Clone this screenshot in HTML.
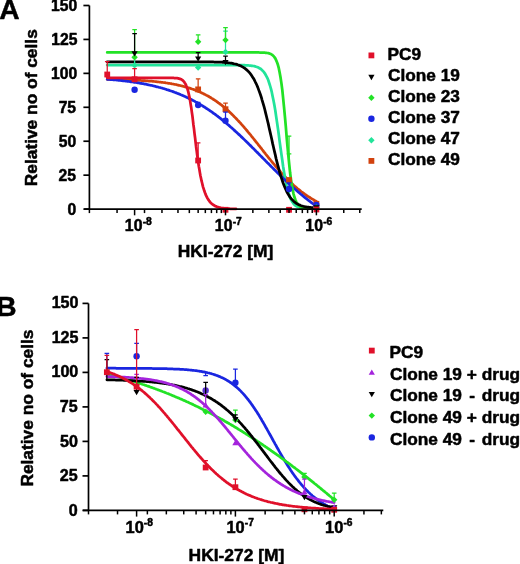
<!DOCTYPE html>
<html><head><meta charset="utf-8"><style>
html,body{margin:0;padding:0;background:#fff;overflow:hidden;}
svg{display:block;}
text{font-family:"Liberation Sans",Arial,Helvetica,sans-serif;font-weight:bold;fill:#000;stroke:#000;stroke-width:0.5px;stroke-linejoin:round;white-space:pre;}
</style></head><body>
<svg width="520" height="564" viewBox="0 0 520 564">
<rect width="520" height="564" fill="#fff"/>
<text class="t" x="51.10" y="11.20" font-size="15.7">150</text>
<text class="t" x="51.20" y="44.50" font-size="15.7">125</text>
<text class="t" x="51.10" y="78.50" font-size="15.7">100</text>
<text class="t" x="58.65" y="113.20" font-size="15.7">75</text>
<text class="t" x="58.85" y="146.50" font-size="15.7">50</text>
<text class="t" x="58.55" y="180.90" font-size="15.7">25</text>
<text class="t" x="67.56" y="214.70" font-size="15.7">0</text>
<text class="t" x="124.86" y="231.19" font-size="15.8">10</text>
<text class="t" x="142.64" y="224.65" font-size="10.3">-8</text>
<text class="t" x="214.86" y="231.19" font-size="15.8">10</text>
<text class="t" x="232.64" y="224.65" font-size="10.3">-7</text>
<text class="t" x="305.36" y="231.19" font-size="15.8">10</text>
<text class="t" x="323.14" y="224.65" font-size="10.3">-6</text>
<text class="t" x="177.78" y="256.55" font-size="17.2" textLength="95.54" lengthAdjust="spacingAndGlyphs">HKI-272 [M]</text>
<text class="t" transform="translate(36.85,186.22) rotate(-90)" x="0" y="0" font-size="17.3" textLength="156.99" lengthAdjust="spacingAndGlyphs">Relative no of cells</text>
<text class="t" x="-0.85" y="19.25" font-size="28.2">A</text>
<path d="M107.2,79.3 L108.1,79.3 L109.0,79.3 L109.9,79.3 L110.7,79.3 L111.6,79.4 L112.5,79.4 L113.4,79.4 L114.2,79.4 L115.1,79.4 L116.0,79.5 L116.9,79.5 L117.7,79.5 L118.6,79.5 L119.5,79.5 L120.4,79.6 L121.2,79.6 L122.1,79.6 L123.0,79.7 L123.9,79.7 L124.7,79.7 L125.6,79.7 L126.5,79.8 L127.4,79.8 L128.2,79.8 L129.1,79.9 L130.0,79.9 L130.9,79.9 L131.7,80.0 L132.6,80.0 L133.5,80.1 L134.4,80.1 L135.2,80.1 L136.1,80.2 L137.0,80.2 L137.9,80.3 L138.7,80.3 L139.6,80.4 L140.5,80.4 L141.4,80.5 L142.2,80.5 L143.1,80.6 L144.0,80.6 L144.9,80.7 L145.7,80.8 L146.6,80.8 L147.5,80.9 L148.4,81.0 L149.2,81.0 L150.1,81.1 L151.0,81.2 L151.9,81.2 L152.7,81.3 L153.6,81.4 L154.5,81.5 L155.4,81.6 L156.2,81.7 L157.1,81.8 L158.0,81.9 L158.9,82.0 L159.7,82.1 L160.6,82.2 L161.5,82.3 L162.4,82.4 L163.2,82.5 L164.1,82.6 L165.0,82.7 L165.9,82.9 L166.7,83.0 L167.6,83.1 L168.5,83.3 L169.4,83.4 L170.2,83.5 L171.1,83.7 L172.0,83.9 L172.9,84.0 L173.7,84.2 L174.6,84.3 L175.5,84.5 L176.4,84.7 L177.2,84.9 L178.1,85.1 L179.0,85.3 L179.9,85.5 L180.7,85.7 L181.6,85.9 L182.5,86.1 L183.4,86.3 L184.3,86.6 L185.1,86.8 L186.0,87.1 L186.9,87.3 L187.8,87.6 L188.6,87.8 L189.5,88.1 L190.4,88.4 L191.3,88.7 L192.1,89.0 L193.0,89.3 L193.9,89.6 L194.8,90.0 L195.6,90.3 L196.5,90.6 L197.4,91.0 L198.3,91.4 L199.1,91.7 L200.0,92.1 L200.9,92.5 L201.8,92.9 L202.6,93.3 L203.5,93.7 L204.4,94.2 L205.3,94.6 L206.1,95.1 L207.0,95.6 L207.9,96.0 L208.8,96.5 L209.6,97.0 L210.5,97.5 L211.4,98.1 L212.3,98.6 L213.1,99.2 L214.0,99.7 L214.9,100.3 L215.8,100.9 L216.6,101.5 L217.5,102.1 L218.4,102.8 L219.3,103.4 L220.1,104.1 L221.0,104.7 L221.9,105.4 L222.8,106.1 L223.6,106.8 L224.5,107.6 L225.4,108.3 L226.3,109.1 L227.1,109.8 L228.0,110.6 L228.9,111.4 L229.8,112.2 L230.6,113.0 L231.5,113.9 L232.4,114.7 L233.3,115.6 L234.1,116.5 L235.0,117.4 L235.9,118.3 L236.8,119.2 L237.6,120.1 L238.5,121.0 L239.4,122.0 L240.3,122.9 L241.1,123.9 L242.0,124.9 L242.9,125.9 L243.8,126.9 L244.6,127.9 L245.5,128.9 L246.4,130.0 L247.3,131.0 L248.1,132.1 L249.0,133.1 L249.9,134.2 L250.8,135.2 L251.6,136.3 L252.5,137.4 L253.4,138.5 L254.3,139.6 L255.1,140.7 L256.0,141.8 L256.9,142.9 L257.8,144.0 L258.6,145.1 L259.5,146.2 L260.4,147.3 L261.3,148.4 L262.1,149.5 L263.0,150.6 L263.9,151.8 L264.8,152.9 L265.6,154.0 L266.5,155.1 L267.4,156.2 L268.3,157.3 L269.1,158.3 L270.0,159.4 L270.9,160.5 L271.8,161.6 L272.6,162.6 L273.5,163.7 L274.4,164.7 L275.3,165.8 L276.1,166.8 L277.0,167.8 L277.9,168.9 L278.8,169.9 L279.6,170.9 L280.5,171.8 L281.4,172.8 L282.3,173.8 L283.1,174.7 L284.0,175.7 L284.9,176.6 L285.8,177.5 L286.6,178.4 L287.5,179.3 L288.4,180.2 L289.3,181.1 L290.1,181.9 L291.0,182.7 L291.9,183.6 L292.8,184.4 L293.6,185.2 L294.5,186.0 L295.4,186.7 L296.3,187.5 L297.1,188.3 L298.0,189.0 L298.9,189.7 L299.8,190.4 L300.6,191.1 L301.5,191.8 L302.4,192.4 L303.3,193.1 L304.1,193.7 L305.0,194.4 L305.9,195.0 L306.8,195.6 L307.6,196.2 L308.5,196.7 L309.4,197.3 L310.3,197.8 L311.1,198.4 L312.0,198.9 L312.9,199.4 L313.8,199.9 L314.6,200.4 L315.5,200.9 L316.4,201.4" fill="none" stroke="#d2420e" stroke-width="2.75" stroke-linejoin="round" stroke-linecap="round"/>
<path d="M107.2,65.0 L108.1,65.0 L109.0,65.0 L109.9,65.0 L110.7,65.0 L111.6,65.0 L112.5,65.0 L113.4,65.0 L114.2,65.0 L115.1,65.0 L116.0,65.0 L116.9,65.0 L117.7,65.0 L118.6,65.0 L119.5,65.0 L120.4,65.0 L121.2,65.0 L122.1,65.0 L123.0,65.0 L123.9,65.0 L124.7,65.0 L125.6,65.0 L126.5,65.0 L127.4,65.0 L128.2,65.0 L129.1,65.0 L130.0,65.0 L130.9,65.0 L131.7,65.0 L132.6,65.0 L133.5,65.0 L134.4,65.0 L135.2,65.0 L136.1,65.0 L137.0,65.0 L137.9,65.0 L138.7,65.0 L139.6,65.0 L140.5,65.0 L141.4,65.0 L142.2,65.0 L143.1,65.0 L144.0,65.0 L144.9,65.0 L145.7,65.0 L146.6,65.0 L147.5,65.0 L148.4,65.0 L149.2,65.0 L150.1,65.0 L151.0,65.0 L151.9,65.0 L152.7,65.0 L153.6,65.0 L154.5,65.0 L155.4,65.0 L156.2,65.0 L157.1,65.0 L158.0,65.0 L158.9,65.0 L159.7,65.0 L160.6,65.0 L161.5,65.0 L162.4,65.0 L163.2,65.0 L164.1,65.0 L165.0,65.0 L165.9,65.0 L166.7,65.0 L167.6,65.0 L168.5,65.0 L169.4,65.0 L170.2,65.0 L171.1,65.0 L172.0,65.0 L172.9,65.0 L173.7,65.0 L174.6,65.0 L175.5,65.0 L176.4,65.0 L177.2,65.0 L178.1,65.0 L179.0,65.0 L179.9,65.0 L180.7,65.0 L181.6,65.0 L182.5,65.0 L183.4,65.0 L184.3,65.0 L185.1,65.0 L186.0,65.0 L186.9,65.0 L187.8,65.0 L188.6,65.0 L189.5,65.0 L190.4,65.0 L191.3,65.0 L192.1,65.0 L193.0,65.0 L193.9,65.0 L194.8,65.0 L195.6,65.0 L196.5,65.0 L197.4,65.0 L198.3,65.0 L199.1,65.0 L200.0,65.0 L200.9,65.0 L201.8,65.0 L202.6,65.0 L203.5,65.0 L204.4,65.0 L205.3,65.0 L206.1,65.0 L207.0,65.0 L207.9,65.0 L208.8,65.0 L209.6,65.0 L210.5,65.0 L211.4,65.0 L212.3,65.0 L213.1,65.0 L214.0,65.0 L214.9,65.0 L215.8,65.0 L216.6,65.0 L217.5,65.0 L218.4,65.0 L219.3,65.0 L220.1,65.0 L221.0,65.0 L221.9,65.0 L222.8,65.0 L223.6,65.0 L224.5,65.0 L225.4,65.0 L226.3,65.0 L227.1,65.0 L228.0,65.0 L228.9,65.0 L229.8,65.0 L230.6,65.0 L231.5,65.0 L232.4,65.0 L233.3,65.0 L234.1,65.0 L235.0,65.1 L235.9,65.1 L236.8,65.1 L237.6,65.1 L238.5,65.1 L239.4,65.1 L240.3,65.1 L241.1,65.1 L242.0,65.1 L242.9,65.2 L243.8,65.2 L244.6,65.2 L245.5,65.3 L246.4,65.3 L247.3,65.3 L248.1,65.4 L249.0,65.5 L249.9,65.5 L250.8,65.6 L251.6,65.8 L252.5,65.9 L253.4,66.0 L254.3,66.2 L255.1,66.4 L256.0,66.7 L256.9,67.0 L257.8,67.3 L258.6,67.7 L259.5,68.2 L260.4,68.7 L261.3,69.4 L262.1,70.2 L263.0,71.0 L263.9,72.1 L264.8,73.3 L265.6,74.7 L266.5,76.3 L267.4,78.1 L268.3,80.3 L269.1,82.7 L270.0,85.5 L270.9,88.7 L271.8,92.2 L272.6,96.2 L273.5,100.5 L274.4,105.3 L275.3,110.5 L276.1,116.1 L277.0,122.1 L277.9,128.3 L278.8,134.7 L279.6,141.2 L280.5,147.7 L281.4,154.1 L282.3,160.3 L283.1,166.2 L284.0,171.7 L284.9,176.8 L285.8,181.4 L286.6,185.6 L287.5,189.3 L288.4,192.5 L289.3,195.2 L290.1,197.6 L291.0,199.6 L291.9,201.2 L292.8,202.6 L293.6,203.8 L294.5,204.7 L295.4,205.5 L296.3,206.1 L297.1,206.6 L298.0,207.0 L298.9,207.3 L299.8,207.6 L300.6,207.8 L301.5,208.0 L302.4,208.1 L303.3,208.2 L304.1,208.3 L305.0,208.4 L305.9,208.4 L306.8,208.5 L307.6,208.5 L308.5,208.5 L309.4,208.5 L310.3,208.6 L311.1,208.6 L312.0,208.6 L312.9,208.6 L313.8,208.6 L314.6,208.6 L315.5,208.6 L316.4,208.6" fill="none" stroke="#22e49a" stroke-width="2.75" stroke-linejoin="round" stroke-linecap="round"/>
<path d="M107.2,79.3 L108.1,79.3 L109.0,79.4 L109.9,79.5 L110.7,79.5 L111.6,79.6 L112.5,79.7 L113.4,79.8 L114.2,79.9 L115.1,79.9 L116.0,80.0 L116.9,80.1 L117.7,80.2 L118.6,80.3 L119.5,80.4 L120.4,80.5 L121.2,80.6 L122.1,80.7 L123.0,80.8 L123.9,80.9 L124.7,81.0 L125.6,81.1 L126.5,81.2 L127.4,81.3 L128.2,81.4 L129.1,81.5 L130.0,81.6 L130.9,81.8 L131.7,81.9 L132.6,82.0 L133.5,82.1 L134.4,82.3 L135.2,82.4 L136.1,82.5 L137.0,82.7 L137.9,82.8 L138.7,83.0 L139.6,83.1 L140.5,83.3 L141.4,83.4 L142.2,83.6 L143.1,83.7 L144.0,83.9 L144.9,84.1 L145.7,84.2 L146.6,84.4 L147.5,84.6 L148.4,84.8 L149.2,85.0 L150.1,85.2 L151.0,85.3 L151.9,85.5 L152.7,85.7 L153.6,86.0 L154.5,86.2 L155.4,86.4 L156.2,86.6 L157.1,86.8 L158.0,87.0 L158.9,87.3 L159.7,87.5 L160.6,87.7 L161.5,88.0 L162.4,88.2 L163.2,88.5 L164.1,88.7 L165.0,89.0 L165.9,89.3 L166.7,89.6 L167.6,89.8 L168.5,90.1 L169.4,90.4 L170.2,90.7 L171.1,91.0 L172.0,91.3 L172.9,91.6 L173.7,91.9 L174.6,92.3 L175.5,92.6 L176.4,92.9 L177.2,93.3 L178.1,93.6 L179.0,93.9 L179.9,94.3 L180.7,94.7 L181.6,95.0 L182.5,95.4 L183.4,95.8 L184.3,96.2 L185.1,96.6 L186.0,97.0 L186.9,97.4 L187.8,97.8 L188.6,98.2 L189.5,98.7 L190.4,99.1 L191.3,99.5 L192.1,100.0 L193.0,100.4 L193.9,100.9 L194.8,101.4 L195.6,101.9 L196.5,102.3 L197.4,102.8 L198.3,103.3 L199.1,103.8 L200.0,104.4 L200.9,104.9 L201.8,105.4 L202.6,105.9 L203.5,106.5 L204.4,107.0 L205.3,107.6 L206.1,108.2 L207.0,108.7 L207.9,109.3 L208.8,109.9 L209.6,110.5 L210.5,111.1 L211.4,111.7 L212.3,112.3 L213.1,113.0 L214.0,113.6 L214.9,114.2 L215.8,114.9 L216.6,115.5 L217.5,116.2 L218.4,116.9 L219.3,117.5 L220.1,118.2 L221.0,118.9 L221.9,119.6 L222.8,120.3 L223.6,121.0 L224.5,121.8 L225.4,122.5 L226.3,123.2 L227.1,124.0 L228.0,124.7 L228.9,125.4 L229.8,126.2 L230.6,127.0 L231.5,127.7 L232.4,128.5 L233.3,129.3 L234.1,130.1 L235.0,130.9 L235.9,131.7 L236.8,132.5 L237.6,133.3 L238.5,134.1 L239.4,134.9 L240.3,135.7 L241.1,136.6 L242.0,137.4 L242.9,138.2 L243.8,139.1 L244.6,139.9 L245.5,140.8 L246.4,141.6 L247.3,142.5 L248.1,143.3 L249.0,144.2 L249.9,145.1 L250.8,145.9 L251.6,146.8 L252.5,147.7 L253.4,148.5 L254.3,149.4 L255.1,150.3 L256.0,151.2 L256.9,152.1 L257.8,152.9 L258.6,153.8 L259.5,154.7 L260.4,155.6 L261.3,156.5 L262.1,157.4 L263.0,158.2 L263.9,159.1 L264.8,160.0 L265.6,160.9 L266.5,161.8 L267.4,162.7 L268.3,163.5 L269.1,164.4 L270.0,165.3 L270.9,166.2 L271.8,167.1 L272.6,167.9 L273.5,168.8 L274.4,169.7 L275.3,170.5 L276.1,171.4 L277.0,172.3 L277.9,173.1 L278.8,174.0 L279.6,174.8 L280.5,175.7 L281.4,176.5 L282.3,177.4 L283.1,178.2 L284.0,179.0 L284.9,179.9 L285.8,180.7 L286.6,181.5 L287.5,182.3 L288.4,183.2 L289.3,184.0 L290.1,184.8 L291.0,185.6 L291.9,186.4 L292.8,187.1 L293.6,187.9 L294.5,188.7 L295.4,189.5 L296.3,190.2 L297.1,191.0 L298.0,191.8 L298.9,192.5 L299.8,193.3 L300.6,194.0 L301.5,194.7 L302.4,195.5 L303.3,196.2 L304.1,196.9 L305.0,197.6 L305.9,198.3 L306.8,199.0 L307.6,199.7 L308.5,200.4 L309.4,201.0 L310.3,201.7 L311.1,202.4 L312.0,203.0 L312.9,203.7 L313.8,204.3 L314.6,205.0 L315.5,205.6 L316.4,206.2" fill="none" stroke="#1a26e0" stroke-width="2.75" stroke-linejoin="round" stroke-linecap="round"/>
<path d="M107.2,52.4 L108.1,52.4 L109.0,52.4 L109.9,52.4 L110.7,52.4 L111.6,52.4 L112.5,52.4 L113.4,52.4 L114.2,52.4 L115.1,52.4 L116.0,52.4 L116.9,52.4 L117.7,52.4 L118.6,52.4 L119.5,52.4 L120.4,52.4 L121.2,52.4 L122.1,52.4 L123.0,52.4 L123.9,52.4 L124.7,52.4 L125.6,52.4 L126.5,52.4 L127.4,52.4 L128.2,52.4 L129.1,52.4 L130.0,52.4 L130.9,52.4 L131.7,52.4 L132.6,52.4 L133.5,52.4 L134.4,52.4 L135.2,52.4 L136.1,52.4 L137.0,52.4 L137.9,52.4 L138.7,52.4 L139.6,52.4 L140.5,52.4 L141.4,52.4 L142.2,52.4 L143.1,52.4 L144.0,52.4 L144.9,52.4 L145.7,52.4 L146.6,52.4 L147.5,52.4 L148.4,52.4 L149.2,52.4 L150.1,52.4 L151.0,52.4 L151.9,52.4 L152.7,52.4 L153.6,52.4 L154.5,52.4 L155.4,52.4 L156.2,52.4 L157.1,52.4 L158.0,52.4 L158.9,52.4 L159.7,52.4 L160.6,52.4 L161.5,52.4 L162.4,52.4 L163.2,52.4 L164.1,52.4 L165.0,52.4 L165.9,52.4 L166.7,52.4 L167.6,52.4 L168.5,52.4 L169.4,52.4 L170.2,52.4 L171.1,52.4 L172.0,52.4 L172.9,52.4 L173.7,52.4 L174.6,52.4 L175.5,52.4 L176.4,52.4 L177.2,52.4 L178.1,52.4 L179.0,52.4 L179.9,52.4 L180.7,52.4 L181.6,52.4 L182.5,52.4 L183.4,52.4 L184.3,52.4 L185.1,52.4 L186.0,52.4 L186.9,52.4 L187.8,52.4 L188.6,52.4 L189.5,52.4 L190.4,52.4 L191.3,52.4 L192.1,52.4 L193.0,52.4 L193.9,52.4 L194.8,52.4 L195.6,52.4 L196.5,52.4 L197.4,52.4 L198.3,52.4 L199.1,52.4 L200.0,52.4 L200.9,52.4 L201.8,52.4 L202.6,52.4 L203.5,52.4 L204.4,52.4 L205.3,52.4 L206.1,52.4 L207.0,52.4 L207.9,52.4 L208.8,52.4 L209.6,52.4 L210.5,52.4 L211.4,52.4 L212.3,52.4 L213.1,52.4 L214.0,52.4 L214.9,52.4 L215.8,52.4 L216.6,52.4 L217.5,52.4 L218.4,52.4 L219.3,52.4 L220.1,52.4 L221.0,52.4 L221.9,52.4 L222.8,52.4 L223.6,52.4 L224.5,52.4 L225.4,52.4 L226.3,52.4 L227.1,52.4 L228.0,52.4 L228.9,52.4 L229.8,52.4 L230.6,52.4 L231.5,52.4 L232.4,52.4 L233.3,52.4 L234.1,52.4 L235.0,52.4 L235.9,52.4 L236.8,52.4 L237.6,52.4 L238.5,52.4 L239.4,52.4 L240.3,52.4 L241.1,52.4 L242.0,52.4 L242.9,52.4 L243.8,52.4 L244.6,52.4 L245.5,52.4 L246.4,52.4 L247.3,52.4 L248.1,52.4 L249.0,52.4 L249.9,52.4 L250.8,52.4 L251.6,52.4 L252.5,52.4 L253.4,52.4 L254.3,52.4 L255.1,52.4 L256.0,52.4 L256.9,52.4 L257.8,52.4 L258.6,52.4 L259.5,52.5 L260.4,52.5 L261.3,52.5 L262.1,52.5 L263.0,52.6 L263.9,52.6 L264.8,52.7 L265.6,52.8 L266.5,52.9 L267.4,53.0 L268.3,53.2 L269.1,53.4 L270.0,53.7 L270.9,54.1 L271.8,54.6 L272.6,55.2 L273.5,56.0 L274.4,57.1 L275.3,58.4 L276.1,60.1 L277.0,62.2 L277.9,64.8 L278.8,68.2 L279.6,72.2 L280.5,77.2 L281.4,83.1 L282.3,90.0 L283.1,97.9 L284.0,106.8 L284.9,116.3 L285.8,126.4 L286.6,136.6 L287.5,146.7 L288.4,156.2 L289.3,165.0 L290.1,172.8 L291.0,179.6 L291.9,185.4 L292.8,190.2 L293.6,194.1 L294.5,197.3 L295.4,199.8 L296.3,201.8 L297.1,203.3 L298.0,204.6 L298.9,205.5 L299.8,206.2 L300.6,206.8 L301.5,207.2 L302.4,207.5 L303.3,207.8 L304.1,208.0 L305.0,208.1 L305.9,208.2 L306.8,208.3 L307.6,208.4 L308.5,208.4 L309.4,208.5 L310.3,208.5 L311.1,208.5 L312.0,208.5 L312.9,208.6 L313.8,208.6 L314.6,208.6 L315.5,208.6 L316.4,208.6" fill="none" stroke="#22e226" stroke-width="2.75" stroke-linejoin="round" stroke-linecap="round"/>
<path d="M107.2,61.8 L108.1,61.8 L109.0,61.8 L109.9,61.8 L110.7,61.8 L111.6,61.8 L112.5,61.8 L113.4,61.8 L114.2,61.8 L115.1,61.8 L116.0,61.8 L116.9,61.8 L117.7,61.8 L118.6,61.8 L119.5,61.8 L120.4,61.8 L121.2,61.8 L122.1,61.8 L123.0,61.8 L123.9,61.8 L124.7,61.8 L125.6,61.8 L126.5,61.8 L127.4,61.8 L128.2,61.8 L129.1,61.8 L130.0,61.8 L130.9,61.8 L131.7,61.8 L132.6,61.8 L133.5,61.8 L134.4,61.8 L135.2,61.8 L136.1,61.8 L137.0,61.8 L137.9,61.8 L138.7,61.8 L139.6,61.8 L140.5,61.8 L141.4,61.8 L142.2,61.8 L143.1,61.8 L144.0,61.8 L144.9,61.8 L145.7,61.8 L146.6,61.8 L147.5,61.8 L148.4,61.8 L149.2,61.8 L150.1,61.8 L151.0,61.8 L151.9,61.8 L152.7,61.8 L153.6,61.8 L154.5,61.8 L155.4,61.8 L156.2,61.8 L157.1,61.8 L158.0,61.8 L158.9,61.8 L159.7,61.8 L160.6,61.8 L161.5,61.8 L162.4,61.8 L163.2,61.8 L164.1,61.8 L165.0,61.8 L165.9,61.8 L166.7,61.8 L167.6,61.8 L168.5,61.8 L169.4,61.8 L170.2,61.8 L171.1,61.8 L172.0,61.8 L172.9,61.8 L173.7,61.8 L174.6,61.8 L175.5,61.8 L176.4,61.8 L177.2,61.8 L178.1,61.8 L179.0,61.8 L179.9,61.8 L180.7,61.8 L181.6,61.8 L182.5,61.8 L183.4,61.8 L184.3,61.8 L185.1,61.8 L186.0,61.8 L186.9,61.8 L187.8,61.8 L188.6,61.8 L189.5,61.8 L190.4,61.8 L191.3,61.8 L192.1,61.8 L193.0,61.8 L193.9,61.8 L194.8,61.8 L195.6,61.8 L196.5,61.8 L197.4,61.8 L198.3,61.8 L199.1,61.8 L200.0,61.8 L200.9,61.8 L201.8,61.8 L202.6,61.8 L203.5,61.8 L204.4,61.8 L205.3,61.8 L206.1,61.8 L207.0,61.8 L207.9,61.9 L208.8,61.9 L209.6,61.9 L210.5,61.9 L211.4,61.9 L212.3,61.9 L213.1,61.9 L214.0,62.0 L214.9,62.0 L215.8,62.0 L216.6,62.0 L217.5,62.1 L218.4,62.1 L219.3,62.1 L220.1,62.2 L221.0,62.2 L221.9,62.2 L222.8,62.3 L223.6,62.4 L224.5,62.4 L225.4,62.5 L226.3,62.6 L227.1,62.7 L228.0,62.8 L228.9,62.9 L229.8,63.0 L230.6,63.1 L231.5,63.2 L232.4,63.4 L233.3,63.6 L234.1,63.8 L235.0,64.0 L235.9,64.2 L236.8,64.4 L237.6,64.7 L238.5,65.0 L239.4,65.4 L240.3,65.7 L241.1,66.1 L242.0,66.6 L242.9,67.1 L243.8,67.6 L244.6,68.2 L245.5,68.9 L246.4,69.6 L247.3,70.4 L248.1,71.2 L249.0,72.2 L249.9,73.2 L250.8,74.3 L251.6,75.5 L252.5,76.9 L253.4,78.3 L254.3,79.8 L255.1,81.5 L256.0,83.3 L256.9,85.3 L257.8,87.4 L258.6,89.6 L259.5,92.0 L260.4,94.5 L261.3,97.2 L262.1,100.1 L263.0,103.1 L263.9,106.2 L264.8,109.5 L265.6,112.9 L266.5,116.5 L267.4,120.2 L268.3,123.9 L269.1,127.7 L270.0,131.6 L270.9,135.5 L271.8,139.5 L272.6,143.4 L273.5,147.3 L274.4,151.1 L275.3,154.9 L276.1,158.6 L277.0,162.1 L277.9,165.6 L278.8,168.9 L279.6,172.1 L280.5,175.0 L281.4,177.9 L282.3,180.5 L283.1,183.0 L284.0,185.3 L284.9,187.5 L285.8,189.5 L286.6,191.3 L287.5,193.0 L288.4,194.5 L289.3,195.9 L290.1,197.2 L291.0,198.4 L291.9,199.4 L292.8,200.3 L293.6,201.2 L294.5,202.0 L295.4,202.6 L296.3,203.3 L297.1,203.8 L298.0,204.3 L298.9,204.7 L299.8,205.1 L300.6,205.5 L301.5,205.8 L302.4,206.0 L303.3,206.3 L304.1,206.5 L305.0,206.7 L305.9,206.8 L306.8,207.0 L307.6,207.1 L308.5,207.2 L309.4,207.3 L310.3,207.4 L311.1,207.5 L312.0,207.6 L312.9,207.6 L313.8,207.7 L314.6,207.7 L315.5,207.8 L316.4,207.8" fill="none" stroke="#000" stroke-width="2.75" stroke-linejoin="round" stroke-linecap="round"/>
<path d="M107.2,77.8 L107.8,77.8 L108.3,77.8 L108.9,77.8 L109.4,77.8 L109.9,77.8 L110.5,77.8 L111.0,77.8 L111.5,77.8 L112.1,77.8 L112.6,77.8 L113.2,77.8 L113.7,77.8 L114.2,77.8 L114.8,77.8 L115.3,77.8 L115.9,77.8 L116.4,77.8 L116.9,77.8 L117.5,77.8 L118.0,77.8 L118.6,77.8 L119.1,77.8 L119.6,77.8 L120.2,77.8 L120.7,77.8 L121.2,77.8 L121.8,77.8 L122.3,77.8 L122.9,77.8 L123.4,77.8 L123.9,77.8 L124.5,77.8 L125.0,77.8 L125.6,77.8 L126.1,77.8 L126.6,77.8 L127.2,77.8 L127.7,77.8 L128.2,77.8 L128.8,77.8 L129.3,77.8 L129.9,77.8 L130.4,77.8 L130.9,77.8 L131.5,77.8 L132.0,77.8 L132.6,77.8 L133.1,77.8 L133.6,77.8 L134.2,77.8 L134.7,77.8 L135.3,77.8 L135.8,77.8 L136.3,77.8 L136.9,77.8 L137.4,77.8 L137.9,77.8 L138.5,77.8 L139.0,77.8 L139.6,77.8 L140.1,77.8 L140.6,77.8 L141.2,77.8 L141.7,77.8 L142.3,77.8 L142.8,77.8 L143.3,77.8 L143.9,77.8 L144.4,77.8 L144.9,77.8 L145.5,77.8 L146.0,77.8 L146.6,77.8 L147.1,77.8 L147.6,77.8 L148.2,77.8 L148.7,77.8 L149.3,77.8 L149.8,77.8 L150.3,77.8 L150.9,77.8 L151.4,77.8 L152.0,77.8 L152.5,77.8 L153.0,77.8 L153.6,77.8 L154.1,77.8 L154.6,77.8 L155.2,77.8 L155.7,77.8 L156.3,77.8 L156.8,77.8 L157.3,77.8 L157.9,77.8 L158.4,77.8 L159.0,77.8 L159.5,77.8 L160.0,77.8 L160.6,77.8 L161.1,77.8 L161.7,77.8 L162.2,77.8 L162.7,77.8 L163.3,77.8 L163.8,77.8 L164.3,77.8 L164.9,77.8 L165.4,77.8 L166.0,77.8 L166.5,77.8 L167.0,77.8 L167.6,77.8 L168.1,77.8 L168.7,77.8 L169.2,77.8 L169.7,77.8 L170.3,77.8 L170.8,77.9 L171.3,77.9 L171.9,77.9 L172.4,77.9 L173.0,77.9 L173.5,77.9 L174.0,78.0 L174.6,78.0 L175.1,78.0 L175.7,78.1 L176.2,78.1 L176.7,78.2 L177.3,78.2 L177.8,78.3 L178.4,78.4 L178.9,78.6 L179.4,78.7 L180.0,78.9 L180.5,79.1 L181.0,79.3 L181.6,79.6 L182.1,79.9 L182.7,80.4 L183.2,80.8 L183.7,81.4 L184.3,82.1 L184.8,82.9 L185.4,83.8 L185.9,84.8 L186.4,86.1 L187.0,87.5 L187.5,89.2 L188.1,91.1 L188.6,93.2 L189.1,95.6 L189.7,98.3 L190.2,101.3 L190.7,104.6 L191.3,108.1 L191.8,111.9 L192.4,115.9 L192.9,120.1 L193.4,124.5 L194.0,128.9 L194.5,133.4 L195.1,137.9 L195.6,142.4 L196.1,146.7 L196.7,151.0 L197.2,155.0 L197.7,158.9 L198.3,162.7 L198.8,166.2 L199.4,169.5 L199.9,172.6 L200.4,175.5 L201.0,178.2 L201.5,180.7 L202.1,183.0 L202.6,185.1 L203.1,187.1 L203.7,188.9 L204.2,190.6 L204.8,192.2 L205.3,193.6 L205.8,194.9 L206.4,196.1 L206.9,197.2 L207.4,198.2 L208.0,199.1 L208.5,199.9 L209.1,200.7 L209.6,201.4 L210.1,202.1 L210.7,202.7 L211.2,203.2 L211.8,203.7 L212.3,204.1 L212.8,204.6 L213.4,204.9 L213.9,205.3 L214.4,205.6 L215.0,205.9 L215.5,206.2 L216.1,206.4 L216.6,206.6 L217.1,206.8 L217.7,207.0 L218.2,207.2 L218.8,207.3 L219.3,207.5 L219.8,207.6 L220.4,207.7 L220.9,207.9 L221.5,208.0 L222.0,208.0 L222.5,208.1 L223.1,208.2 L223.6,208.3 L224.1,208.3 L224.7,208.4 L225.2,208.4 L225.8,208.5 L226.3,208.5 L226.8,208.6 L227.4,208.6 L227.9,208.7 L228.5,208.7 L229.0,208.7 L229.5,208.7 L230.1,208.8 L230.6,208.8 L231.2,208.8 L231.7,208.8 L232.2,208.8 L232.8,208.9 L233.3,208.9 L233.8,208.9 L234.4,208.9 L234.9,208.9 L235.5,208.9 L236.0,208.9" fill="none" stroke="#e0102a" stroke-width="2.75" stroke-linejoin="round" stroke-linecap="round"/>
<path d="M198.14,89.40 V78.90 M195.84,78.90 H200.44" stroke="#d2420e" stroke-width="1.25" fill="none"/>
<path d="M225.50,109.20 V103.00 M223.20,103.00 H227.80" stroke="#d2420e" stroke-width="1.25" fill="none"/>
<rect x="195.24" y="86.50" width="5.80" height="5.80" fill="#d2420e"/>
<rect x="222.60" y="106.30" width="5.80" height="5.80" fill="#d2420e"/>
<rect x="286.14" y="177.10" width="5.80" height="5.80" fill="#d2420e"/>
<rect x="313.50" y="200.90" width="5.80" height="5.80" fill="#d2420e"/>
<path d="M134.60,65.20 V57.50 M132.30,57.50 H136.90" stroke="#22e49a" stroke-width="1.25" fill="none"/>
<path d="M225.50,52.00 V31.20 M223.20,31.20 H227.80" stroke="#22e49a" stroke-width="1.25" fill="none"/>
<polygon points="134.60,62.00 137.80,65.20 134.60,68.40 131.40,65.20" fill="#22e49a"/>
<polygon points="198.14,64.40 201.34,67.60 198.14,70.80 194.94,67.60" fill="#22e49a"/>
<polygon points="225.50,48.80 228.70,52.00 225.50,55.20 222.30,52.00" fill="#22e49a"/>
<polygon points="316.40,204.30 319.60,207.50 316.40,210.70 313.20,207.50" fill="#22e49a"/>
<path d="M198.14,105.10 V102.40 M195.84,102.40 H200.44" stroke="#1a26e0" stroke-width="1.25" fill="none"/>
<path d="M225.50,120.70 V112.00 M223.20,112.00 H227.80" stroke="#1a26e0" stroke-width="1.25" fill="none"/>
<path d="M289.04,189.00 V182.80 M286.74,182.80 H291.34" stroke="#1a26e0" stroke-width="1.25" fill="none"/>
<circle cx="134.60" cy="89.80" r="3.20" fill="#1a26e0"/>
<circle cx="198.14" cy="105.10" r="3.20" fill="#1a26e0"/>
<circle cx="225.50" cy="120.70" r="3.20" fill="#1a26e0"/>
<circle cx="289.04" cy="189.00" r="3.20" fill="#1a26e0"/>
<circle cx="316.40" cy="205.00" r="3.20" fill="#1a26e0"/>
<path d="M134.60,57.20 V29.70 M132.30,29.70 H136.90" stroke="#22e226" stroke-width="1.25" fill="none"/>
<path d="M198.14,41.80 V34.80 M195.84,34.80 H200.44" stroke="#22e226" stroke-width="1.25" fill="none"/>
<path d="M225.50,40.10 V27.70 M223.20,27.70 H227.80" stroke="#22e226" stroke-width="1.25" fill="none"/>
<path d="M289.04,162.75 V136.00 M286.74,136.00 H291.34" stroke="#22e226" stroke-width="1.25" fill="none"/>
<path d="M289.04,162.75 V153.80 M286.74,153.80 H291.34" stroke="#22e226" stroke-width="1.25" fill="none"/>
<polygon points="134.60,54.00 137.80,57.20 134.60,60.40 131.40,57.20" fill="#22e226"/>
<polygon points="198.14,38.60 201.34,41.80 198.14,45.00 194.94,41.80" fill="#22e226"/>
<polygon points="225.50,36.90 228.70,40.10 225.50,43.30 222.30,40.10" fill="#22e226"/>
<polygon points="316.40,204.30 319.60,207.50 316.40,210.70 313.20,207.50" fill="#22e226"/>
<path d="M134.60,53.40 V33.60 M132.30,33.60 H136.90" stroke="#000" stroke-width="1.25" fill="none"/>
<path d="M198.14,58.70 V52.50 M195.84,52.50 H200.44" stroke="#000" stroke-width="1.25" fill="none"/>
<path d="M225.50,62.20 V56.00 M223.20,56.00 H227.80" stroke="#000" stroke-width="1.25" fill="none"/>
<polygon points="131.50,51.17 137.70,51.17 134.60,56.47" fill="#000"/>
<polygon points="195.04,56.47 201.24,56.47 198.14,61.77" fill="#000"/>
<polygon points="222.40,59.97 228.60,59.97 225.50,65.27" fill="#000"/>
<polygon points="313.30,205.27 319.50,205.27 316.40,210.57" fill="#000"/>
<path d="M107.24,74.50 V61.60 M104.94,61.60 H109.54" stroke="#e0102a" stroke-width="1.25" fill="none"/>
<path d="M134.60,79.30 V68.70 M132.30,68.70 H136.90" stroke="#e0102a" stroke-width="1.25" fill="none"/>
<path d="M198.14,160.50 V142.90 M195.84,142.90 H200.44" stroke="#e0102a" stroke-width="1.25" fill="none"/>
<rect x="104.34" y="71.60" width="5.80" height="5.80" fill="#e0102a"/>
<rect x="131.70" y="76.40" width="5.80" height="5.80" fill="#e0102a"/>
<rect x="195.24" y="157.60" width="5.80" height="5.80" fill="#e0102a"/>
<rect x="222.60" y="206.90" width="5.80" height="5.80" fill="#e0102a"/>
<rect x="286.14" y="206.90" width="5.80" height="5.80" fill="#e0102a"/>
<rect x="313.50" y="206.60" width="5.80" height="5.80" fill="#e0102a"/>
<rect x="368.50" y="52.50" width="5.80" height="5.80" fill="#e0102a"/>
<text class="t" x="387.49" y="60.05" font-size="17.0" textLength="33.57" lengthAdjust="spacingAndGlyphs">PC9</text>
<polygon points="368.30,74.87 374.50,74.87 371.40,80.17" fill="#000"/>
<text class="t" x="387.96" y="81.11" font-size="17.0" textLength="71.92" lengthAdjust="spacingAndGlyphs">Clone 19</text>
<polygon points="371.40,94.50 374.60,97.70 371.40,100.90 368.20,97.70" fill="#22e226"/>
<text class="t" x="387.96" y="102.17" font-size="17.0" textLength="71.92" lengthAdjust="spacingAndGlyphs">Clone 23</text>
<circle cx="371.40" cy="118.80" r="3.20" fill="#1a26e0"/>
<text class="t" x="387.96" y="123.23" font-size="17.0" textLength="71.92" lengthAdjust="spacingAndGlyphs">Clone 37</text>
<polygon points="371.40,137.10 374.60,140.30 371.40,143.50 368.20,140.30" fill="#22e49a"/>
<text class="t" x="387.96" y="144.29" font-size="17.0" textLength="71.92" lengthAdjust="spacingAndGlyphs">Clone 47</text>
<rect x="368.50" y="158.00" width="5.80" height="5.80" fill="#d2420e"/>
<text class="t" x="387.96" y="165.35" font-size="17.0" textLength="71.92" lengthAdjust="spacingAndGlyphs">Clone 49</text>
<path d="M89.4,5.5 V209.1" stroke="#000" stroke-width="1.7" fill="none"/>
<path d="M83.40,209.10 H89.4" stroke="#000" stroke-width="1.7"/>
<path d="M83.40,175.17 H89.4" stroke="#000" stroke-width="1.7"/>
<path d="M83.40,141.23 H89.4" stroke="#000" stroke-width="1.7"/>
<path d="M83.40,107.30 H89.4" stroke="#000" stroke-width="1.7"/>
<path d="M83.40,73.37 H89.4" stroke="#000" stroke-width="1.7"/>
<path d="M83.40,39.43 H89.4" stroke="#000" stroke-width="1.7"/>
<path d="M83.40,5.50 H89.4" stroke="#000" stroke-width="1.7"/>
<path d="M84.2,209.1 H361.7" stroke="#000" stroke-width="1.7" fill="none"/>
<path d="M89.40,209.1 V213.10" stroke="#000" stroke-width="1.5"/>
<path d="M134.60,209.1 V215.30" stroke="#000" stroke-width="1.5"/>
<path d="M161.96,209.1 V213.10" stroke="#000" stroke-width="1.5"/>
<path d="M177.97,209.1 V213.10" stroke="#000" stroke-width="1.5"/>
<path d="M189.33,209.1 V213.10" stroke="#000" stroke-width="1.5"/>
<path d="M198.14,209.1 V213.10" stroke="#000" stroke-width="1.5"/>
<path d="M205.33,209.1 V213.10" stroke="#000" stroke-width="1.5"/>
<path d="M211.42,209.1 V213.10" stroke="#000" stroke-width="1.5"/>
<path d="M216.69,209.1 V213.10" stroke="#000" stroke-width="1.5"/>
<path d="M221.34,209.1 V213.10" stroke="#000" stroke-width="1.5"/>
<path d="M225.50,209.1 V215.30" stroke="#000" stroke-width="1.5"/>
<path d="M252.86,209.1 V213.10" stroke="#000" stroke-width="1.5"/>
<path d="M268.87,209.1 V213.10" stroke="#000" stroke-width="1.5"/>
<path d="M280.23,209.1 V213.10" stroke="#000" stroke-width="1.5"/>
<path d="M289.04,209.1 V213.10" stroke="#000" stroke-width="1.5"/>
<path d="M296.23,209.1 V213.10" stroke="#000" stroke-width="1.5"/>
<path d="M302.32,209.1 V213.10" stroke="#000" stroke-width="1.5"/>
<path d="M307.59,209.1 V213.10" stroke="#000" stroke-width="1.5"/>
<path d="M312.24,209.1 V213.10" stroke="#000" stroke-width="1.5"/>
<path d="M316.40,209.1 V215.30" stroke="#000" stroke-width="1.5"/>
<path d="M343.76,209.1 V213.10" stroke="#000" stroke-width="1.5"/>
<path d="M359.77,209.1 V213.10" stroke="#000" stroke-width="1.5"/>
<path d="M117.06,209.1 V213.10" stroke="#000" stroke-width="1.5"/>
<path d="M144.51,209.1 V213.10" stroke="#000" stroke-width="1.5"/>
<text class="t" x="51.65" y="307.83" font-size="16.1">150</text>
<text class="t" x="51.65" y="342.83" font-size="16.1">125</text>
<text class="t" x="51.45" y="377.43" font-size="16.1">100</text>
<text class="t" x="59.82" y="412.43" font-size="16.1">75</text>
<text class="t" x="60.02" y="446.83" font-size="16.1">50</text>
<text class="t" x="59.82" y="480.73" font-size="16.1">25</text>
<text class="t" x="68.66" y="516.13" font-size="16.1">0</text>
<text class="t" x="125.52" y="532.59" font-size="16.4">10</text>
<text class="t" x="143.84" y="526.05" font-size="10.2">-8</text>
<text class="t" x="226.42" y="532.59" font-size="16.4">10</text>
<text class="t" x="244.74" y="526.05" font-size="10.2">-7</text>
<text class="t" x="325.12" y="532.59" font-size="16.4">10</text>
<text class="t" x="343.44" y="526.05" font-size="10.2">-6</text>
<text class="t" x="188.57" y="560.55" font-size="17.2" textLength="95.85" lengthAdjust="spacingAndGlyphs">HKI-272 [M]</text>
<text class="t" transform="translate(32.65,486.62) rotate(-90)" x="0" y="0" font-size="17.3" textLength="157.09" lengthAdjust="spacingAndGlyphs">Relative no of cells</text>
<text class="t" x="-4.06" y="316.25" font-size="28.5">B</text>
<path d="M106.9,368.2 L107.8,368.2 L108.8,368.2 L109.7,368.2 L110.7,368.2 L111.6,368.2 L112.6,368.2 L113.5,368.2 L114.5,368.2 L115.4,368.2 L116.4,368.3 L117.3,368.3 L118.3,368.3 L119.2,368.3 L120.2,368.3 L121.1,368.3 L122.1,368.3 L123.0,368.3 L124.0,368.3 L124.9,368.3 L125.9,368.3 L126.8,368.3 L127.8,368.3 L128.7,368.3 L129.7,368.3 L130.6,368.3 L131.6,368.3 L132.5,368.3 L133.5,368.3 L134.4,368.3 L135.4,368.3 L136.3,368.3 L137.3,368.3 L138.2,368.3 L139.2,368.3 L140.2,368.3 L141.1,368.3 L142.1,368.4 L143.0,368.4 L144.0,368.4 L144.9,368.4 L145.9,368.4 L146.8,368.4 L147.8,368.4 L148.7,368.4 L149.7,368.4 L150.6,368.4 L151.6,368.4 L152.5,368.5 L153.5,368.5 L154.4,368.5 L155.4,368.5 L156.3,368.5 L157.3,368.5 L158.2,368.5 L159.2,368.6 L160.1,368.6 L161.1,368.6 L162.0,368.6 L163.0,368.6 L163.9,368.7 L164.9,368.7 L165.8,368.7 L166.8,368.7 L167.7,368.8 L168.7,368.8 L169.6,368.8 L170.6,368.9 L171.5,368.9 L172.5,368.9 L173.4,369.0 L174.4,369.0 L175.3,369.0 L176.3,369.1 L177.2,369.1 L178.2,369.2 L179.2,369.2 L180.1,369.3 L181.1,369.3 L182.0,369.4 L183.0,369.4 L183.9,369.5 L184.9,369.6 L185.8,369.7 L186.8,369.7 L187.7,369.8 L188.7,369.9 L189.6,370.0 L190.6,370.1 L191.5,370.2 L192.5,370.3 L193.4,370.4 L194.4,370.5 L195.3,370.6 L196.3,370.7 L197.2,370.8 L198.2,371.0 L199.1,371.1 L200.1,371.3 L201.0,371.4 L202.0,371.6 L202.9,371.8 L203.9,371.9 L204.8,372.1 L205.8,372.3 L206.7,372.5 L207.7,372.8 L208.6,373.0 L209.6,373.2 L210.5,373.5 L211.5,373.7 L212.4,374.0 L213.4,374.3 L214.3,374.6 L215.3,374.9 L216.2,375.3 L217.2,375.6 L218.2,376.0 L219.1,376.4 L220.1,376.8 L221.0,377.2 L222.0,377.6 L222.9,378.1 L223.9,378.6 L224.8,379.1 L225.8,379.6 L226.7,380.1 L227.7,380.7 L228.6,381.3 L229.6,381.9 L230.5,382.5 L231.5,383.2 L232.4,383.9 L233.4,384.6 L234.3,385.3 L235.3,386.1 L236.2,386.9 L237.2,387.7 L238.1,388.6 L239.1,389.5 L240.0,390.4 L241.0,391.4 L241.9,392.4 L242.9,393.4 L243.8,394.4 L244.8,395.5 L245.7,396.6 L246.7,397.8 L247.6,399.0 L248.6,400.2 L249.5,401.4 L250.5,402.7 L251.4,404.0 L252.4,405.4 L253.3,406.7 L254.3,408.1 L255.2,409.6 L256.2,411.0 L257.2,412.5 L258.1,414.1 L259.1,415.6 L260.0,417.2 L261.0,418.7 L261.9,420.4 L262.9,422.0 L263.8,423.6 L264.8,425.3 L265.7,427.0 L266.7,428.7 L267.6,430.4 L268.6,432.1 L269.5,433.8 L270.5,435.5 L271.4,437.2 L272.4,439.0 L273.3,440.7 L274.3,442.4 L275.2,444.1 L276.2,445.8 L277.1,447.5 L278.1,449.2 L279.0,450.9 L280.0,452.6 L280.9,454.3 L281.9,455.9 L282.8,457.5 L283.8,459.1 L284.7,460.7 L285.7,462.3 L286.6,463.8 L287.6,465.4 L288.5,466.9 L289.5,468.3 L290.4,469.8 L291.4,471.2 L292.3,472.6 L293.3,474.0 L294.2,475.3 L295.2,476.7 L296.2,478.0 L297.1,479.2 L298.1,480.4 L299.0,481.7 L300.0,482.8 L300.9,484.0 L301.9,485.1 L302.8,486.2 L303.8,487.3 L304.7,488.3 L305.7,489.3 L306.6,490.3 L307.6,491.3 L308.5,492.2 L309.5,493.1 L310.4,494.0 L311.4,494.8 L312.3,495.7 L313.3,496.5 L314.2,497.2 L315.2,498.0 L316.1,498.7 L317.1,499.5 L318.0,500.1 L319.0,500.8 L319.9,501.5 L320.9,502.1 L321.8,502.7 L322.8,503.3 L323.7,503.9 L324.7,504.4 L325.6,505.0 L326.6,505.5 L327.5,506.0 L328.5,506.5 L329.4,506.9 L330.4,507.4 L331.3,507.8 L332.3,508.2 L333.2,508.7 L334.2,509.1" fill="none" stroke="#1a26e0" stroke-width="2.75" stroke-linejoin="round" stroke-linecap="round"/>
<path d="M106.9,374.0 L107.8,374.2 L108.8,374.5 L109.7,374.7 L110.7,375.0 L111.6,375.2 L112.6,375.4 L113.5,375.7 L114.5,375.9 L115.4,376.2 L116.4,376.5 L117.3,376.7 L118.3,377.0 L119.2,377.2 L120.2,377.5 L121.1,377.8 L122.1,378.0 L123.0,378.3 L124.0,378.6 L124.9,378.8 L125.9,379.1 L126.8,379.4 L127.8,379.7 L128.7,380.0 L129.7,380.2 L130.6,380.5 L131.6,380.8 L132.5,381.1 L133.5,381.4 L134.4,381.7 L135.4,382.0 L136.3,382.3 L137.3,382.6 L138.2,382.9 L139.2,383.2 L140.2,383.5 L141.1,383.8 L142.1,384.2 L143.0,384.5 L144.0,384.8 L144.9,385.1 L145.9,385.4 L146.8,385.8 L147.8,386.1 L148.7,386.4 L149.7,386.8 L150.6,387.1 L151.6,387.4 L152.5,387.8 L153.5,388.1 L154.4,388.5 L155.4,388.8 L156.3,389.2 L157.3,389.5 L158.2,389.9 L159.2,390.2 L160.1,390.6 L161.1,390.9 L162.0,391.3 L163.0,391.7 L163.9,392.0 L164.9,392.4 L165.8,392.8 L166.8,393.2 L167.7,393.5 L168.7,393.9 L169.6,394.3 L170.6,394.7 L171.5,395.1 L172.5,395.5 L173.4,395.9 L174.4,396.3 L175.3,396.7 L176.3,397.1 L177.2,397.5 L178.2,397.9 L179.2,398.3 L180.1,398.7 L181.1,399.1 L182.0,399.5 L183.0,400.0 L183.9,400.4 L184.9,400.8 L185.8,401.2 L186.8,401.7 L187.7,402.1 L188.7,402.6 L189.6,403.0 L190.6,403.4 L191.5,403.9 L192.5,404.3 L193.4,404.8 L194.4,405.2 L195.3,405.7 L196.3,406.1 L197.2,406.6 L198.2,407.1 L199.1,407.5 L200.1,408.0 L201.0,408.5 L202.0,409.0 L202.9,409.4 L203.9,409.9 L204.8,410.4 L205.8,410.9 L206.7,411.4 L207.7,411.9 L208.6,412.3 L209.6,412.8 L210.5,413.3 L211.5,413.8 L212.4,414.3 L213.4,414.9 L214.3,415.4 L215.3,415.9 L216.2,416.4 L217.2,416.9 L218.2,417.4 L219.1,418.0 L220.1,418.5 L221.0,419.0 L222.0,419.5 L222.9,420.1 L223.9,420.6 L224.8,421.2 L225.8,421.7 L226.7,422.2 L227.7,422.8 L228.6,423.3 L229.6,423.9 L230.5,424.4 L231.5,425.0 L232.4,425.6 L233.4,426.1 L234.3,426.7 L235.3,427.3 L236.2,427.8 L237.2,428.4 L238.1,429.0 L239.1,429.6 L240.0,430.1 L241.0,430.7 L241.9,431.3 L242.9,431.9 L243.8,432.5 L244.8,433.1 L245.7,433.7 L246.7,434.3 L247.6,434.9 L248.6,435.5 L249.5,436.1 L250.5,436.7 L251.4,437.3 L252.4,438.0 L253.3,438.6 L254.3,439.2 L255.2,439.8 L256.2,440.4 L257.2,441.1 L258.1,441.7 L259.1,442.3 L260.0,443.0 L261.0,443.6 L261.9,444.3 L262.9,444.9 L263.8,445.6 L264.8,446.2 L265.7,446.9 L266.7,447.5 L267.6,448.2 L268.6,448.8 L269.5,449.5 L270.5,450.1 L271.4,450.8 L272.4,451.5 L273.3,452.2 L274.3,452.8 L275.2,453.5 L276.2,454.2 L277.1,454.9 L278.1,455.5 L279.0,456.2 L280.0,456.9 L280.9,457.6 L281.9,458.3 L282.8,459.0 L283.8,459.7 L284.7,460.4 L285.7,461.1 L286.6,461.8 L287.6,462.5 L288.5,463.2 L289.5,463.9 L290.4,464.6 L291.4,465.4 L292.3,466.1 L293.3,466.8 L294.2,467.5 L295.2,468.2 L296.2,469.0 L297.1,469.7 L298.1,470.4 L299.0,471.2 L300.0,471.9 L300.9,472.6 L301.9,473.4 L302.8,474.1 L303.8,474.9 L304.7,475.6 L305.7,476.4 L306.6,477.1 L307.6,477.9 L308.5,478.6 L309.5,479.4 L310.4,480.1 L311.4,480.9 L312.3,481.7 L313.3,482.4 L314.2,483.2 L315.2,484.0 L316.1,484.7 L317.1,485.5 L318.0,486.3 L319.0,487.0 L319.9,487.8 L320.9,488.6 L321.8,489.4 L322.8,490.2 L323.7,491.0 L324.7,491.7 L325.6,492.5 L326.6,493.3 L327.5,494.1 L328.5,494.9 L329.4,495.7 L330.4,496.5 L331.3,497.3 L332.3,498.1 L333.2,498.9 L334.2,499.7" fill="none" stroke="#22e226" stroke-width="2.75" stroke-linejoin="round" stroke-linecap="round"/>
<path d="M106.9,379.8 L107.8,379.8 L108.8,379.8 L109.7,379.8 L110.7,379.8 L111.6,379.9 L112.6,379.9 L113.5,379.9 L114.5,379.9 L115.4,380.0 L116.4,380.0 L117.3,380.0 L118.3,380.1 L119.2,380.1 L120.2,380.1 L121.1,380.2 L122.1,380.2 L123.0,380.2 L124.0,380.3 L124.9,380.3 L125.9,380.3 L126.8,380.4 L127.8,380.4 L128.7,380.5 L129.7,380.5 L130.6,380.5 L131.6,380.6 L132.5,380.6 L133.5,380.7 L134.4,380.7 L135.4,380.8 L136.3,380.8 L137.3,380.9 L138.2,381.0 L139.2,381.0 L140.2,381.1 L141.1,381.1 L142.1,381.2 L143.0,381.3 L144.0,381.3 L144.9,381.4 L145.9,381.5 L146.8,381.6 L147.8,381.7 L148.7,381.7 L149.7,381.8 L150.6,381.9 L151.6,382.0 L152.5,382.1 L153.5,382.2 L154.4,382.3 L155.4,382.4 L156.3,382.5 L157.3,382.6 L158.2,382.7 L159.2,382.8 L160.1,382.9 L161.1,383.1 L162.0,383.2 L163.0,383.3 L163.9,383.5 L164.9,383.6 L165.8,383.7 L166.8,383.9 L167.7,384.0 L168.7,384.2 L169.6,384.3 L170.6,384.5 L171.5,384.7 L172.5,384.9 L173.4,385.0 L174.4,385.2 L175.3,385.4 L176.3,385.6 L177.2,385.8 L178.2,386.0 L179.2,386.3 L180.1,386.5 L181.1,386.7 L182.0,386.9 L183.0,387.2 L183.9,387.4 L184.9,387.7 L185.8,388.0 L186.8,388.2 L187.7,388.5 L188.7,388.8 L189.6,389.1 L190.6,389.4 L191.5,389.7 L192.5,390.1 L193.4,390.4 L194.4,390.7 L195.3,391.1 L196.3,391.5 L197.2,391.8 L198.2,392.2 L199.1,392.6 L200.1,393.0 L201.0,393.4 L202.0,393.9 L202.9,394.3 L203.9,394.7 L204.8,395.2 L205.8,395.7 L206.7,396.2 L207.7,396.7 L208.6,397.2 L209.6,397.7 L210.5,398.2 L211.5,398.8 L212.4,399.4 L213.4,400.0 L214.3,400.5 L215.3,401.2 L216.2,401.8 L217.2,402.4 L218.2,403.1 L219.1,403.8 L220.1,404.4 L221.0,405.1 L222.0,405.9 L222.9,406.6 L223.9,407.3 L224.8,408.1 L225.8,408.9 L226.7,409.7 L227.7,410.5 L228.6,411.3 L229.6,412.2 L230.5,413.0 L231.5,413.9 L232.4,414.8 L233.4,415.7 L234.3,416.7 L235.3,417.6 L236.2,418.6 L237.2,419.6 L238.1,420.5 L239.1,421.6 L240.0,422.6 L241.0,423.6 L241.9,424.7 L242.9,425.8 L243.8,426.8 L244.8,427.9 L245.7,429.1 L246.7,430.2 L247.6,431.3 L248.6,432.5 L249.5,433.6 L250.5,434.8 L251.4,436.0 L252.4,437.2 L253.3,438.4 L254.3,439.6 L255.2,440.9 L256.2,442.1 L257.2,443.3 L258.1,444.6 L259.1,445.8 L260.0,447.1 L261.0,448.3 L261.9,449.6 L262.9,450.9 L263.8,452.1 L264.8,453.4 L265.7,454.7 L266.7,455.9 L267.6,457.2 L268.6,458.5 L269.5,459.7 L270.5,461.0 L271.4,462.2 L272.4,463.4 L273.3,464.7 L274.3,465.9 L275.2,467.1 L276.2,468.3 L277.1,469.5 L278.1,470.7 L279.0,471.8 L280.0,473.0 L280.9,474.1 L281.9,475.2 L282.8,476.4 L283.8,477.4 L284.7,478.5 L285.7,479.6 L286.6,480.6 L287.6,481.6 L288.5,482.6 L289.5,483.6 L290.4,484.6 L291.4,485.5 L292.3,486.4 L293.3,487.3 L294.2,488.2 L295.2,489.1 L296.2,489.9 L297.1,490.7 L298.1,491.5 L299.0,492.3 L300.0,493.0 L300.9,493.7 L301.9,494.4 L302.8,495.1 L303.8,495.8 L304.7,496.4 L305.7,497.0 L306.6,497.6 L307.6,498.2 L308.5,498.8 L309.5,499.3 L310.4,499.8 L311.4,500.3 L312.3,500.8 L313.3,501.3 L314.2,501.7 L315.2,502.1 L316.1,502.5 L317.1,502.9 L318.0,503.3 L319.0,503.7 L319.9,504.0 L320.9,504.4 L321.8,504.7 L322.8,505.0 L323.7,505.3 L324.7,505.5 L325.6,505.8 L326.6,506.0 L327.5,506.3 L328.5,506.5 L329.4,506.7 L330.4,506.9 L331.3,507.1 L332.3,507.3 L333.2,507.5 L334.2,507.7" fill="none" stroke="#000" stroke-width="2.75" stroke-linejoin="round" stroke-linecap="round"/>
<circle cx="205.66" cy="390.40" r="3.20" fill="#5a2fd0"/>
<path d="M106.9,376.5 L107.8,376.6 L108.8,376.6 L109.7,376.6 L110.7,376.6 L111.6,376.7 L112.6,376.7 L113.5,376.7 L114.5,376.8 L115.4,376.8 L116.4,376.8 L117.3,376.9 L118.3,376.9 L119.2,376.9 L120.2,377.0 L121.1,377.0 L122.1,377.1 L123.0,377.1 L124.0,377.2 L124.9,377.2 L125.9,377.3 L126.8,377.3 L127.8,377.4 L128.7,377.4 L129.7,377.5 L130.6,377.6 L131.6,377.6 L132.5,377.7 L133.5,377.8 L134.4,377.9 L135.4,377.9 L136.3,378.0 L137.3,378.1 L138.2,378.2 L139.2,378.3 L140.2,378.4 L141.1,378.5 L142.1,378.6 L143.0,378.7 L144.0,378.8 L144.9,378.9 L145.9,379.0 L146.8,379.1 L147.8,379.3 L148.7,379.4 L149.7,379.6 L150.6,379.7 L151.6,379.8 L152.5,380.0 L153.5,380.2 L154.4,380.3 L155.4,380.5 L156.3,380.7 L157.3,380.9 L158.2,381.1 L159.2,381.3 L160.1,381.5 L161.1,381.7 L162.0,381.9 L163.0,382.2 L163.9,382.4 L164.9,382.7 L165.8,382.9 L166.8,383.2 L167.7,383.5 L168.7,383.8 L169.6,384.1 L170.6,384.4 L171.5,384.7 L172.5,385.0 L173.4,385.4 L174.4,385.7 L175.3,386.1 L176.3,386.5 L177.2,386.9 L178.2,387.3 L179.2,387.7 L180.1,388.2 L181.1,388.6 L182.0,389.1 L183.0,389.6 L183.9,390.0 L184.9,390.6 L185.8,391.1 L186.8,391.6 L187.7,392.2 L188.7,392.7 L189.6,393.3 L190.6,393.9 L191.5,394.6 L192.5,395.2 L193.4,395.9 L194.4,396.5 L195.3,397.2 L196.3,397.9 L197.2,398.7 L198.2,399.4 L199.1,400.2 L200.1,400.9 L201.0,401.7 L202.0,402.5 L202.9,403.4 L203.9,404.2 L204.8,405.1 L205.8,406.0 L206.7,406.9 L207.7,407.8 L208.6,408.7 L209.6,409.7 L210.5,410.7 L211.5,411.6 L212.4,412.6 L213.4,413.6 L214.3,414.7 L215.3,415.7 L216.2,416.8 L217.2,417.8 L218.2,418.9 L219.1,420.0 L220.1,421.1 L221.0,422.2 L222.0,423.3 L222.9,424.4 L223.9,425.6 L224.8,426.7 L225.8,427.9 L226.7,429.0 L227.7,430.2 L228.6,431.4 L229.6,432.5 L230.5,433.7 L231.5,434.9 L232.4,436.0 L233.4,437.2 L234.3,438.4 L235.3,439.6 L236.2,440.7 L237.2,441.9 L238.1,443.1 L239.1,444.2 L240.0,445.4 L241.0,446.5 L241.9,447.7 L242.9,448.8 L243.8,449.9 L244.8,451.0 L245.7,452.1 L246.7,453.2 L247.6,454.3 L248.6,455.4 L249.5,456.5 L250.5,457.5 L251.4,458.6 L252.4,459.6 L253.3,460.6 L254.3,461.6 L255.2,462.6 L256.2,463.6 L257.2,464.6 L258.1,465.6 L259.1,466.5 L260.0,467.4 L261.0,468.3 L261.9,469.2 L262.9,470.1 L263.8,471.0 L264.8,471.8 L265.7,472.7 L266.7,473.5 L267.6,474.3 L268.6,475.1 L269.5,475.9 L270.5,476.6 L271.4,477.4 L272.4,478.1 L273.3,478.8 L274.3,479.6 L275.2,480.2 L276.2,480.9 L277.1,481.6 L278.1,482.2 L279.0,482.9 L280.0,483.5 L280.9,484.1 L281.9,484.7 L282.8,485.3 L283.8,485.9 L284.7,486.4 L285.7,487.0 L286.6,487.5 L287.6,488.0 L288.5,488.5 L289.5,489.0 L290.4,489.5 L291.4,490.0 L292.3,490.4 L293.3,490.9 L294.2,491.3 L295.2,491.8 L296.2,492.2 L297.1,492.6 L298.1,493.0 L299.0,493.4 L300.0,493.8 L300.9,494.1 L301.9,494.5 L302.8,494.8 L303.8,495.2 L304.7,495.5 L305.7,495.9 L306.6,496.2 L307.6,496.5 L308.5,496.8 L309.5,497.1 L310.4,497.4 L311.4,497.7 L312.3,497.9 L313.3,498.2 L314.2,498.5 L315.2,498.7 L316.1,499.0 L317.1,499.2 L318.0,499.4 L319.0,499.7 L319.9,499.9 L320.9,500.1 L321.8,500.3 L322.8,500.5 L323.7,500.7 L324.7,500.9 L325.6,501.1 L326.6,501.3 L327.5,501.5 L328.5,501.6 L329.4,501.8 L330.4,502.0 L331.3,502.1 L332.3,502.3 L333.2,502.4 L334.2,502.6" fill="none" stroke="#a424dc" stroke-width="2.75" stroke-linejoin="round" stroke-linecap="round"/>
<path d="M106.9,371.6 L107.8,371.9 L108.8,372.2 L109.7,372.5 L110.7,372.9 L111.6,373.2 L112.6,373.6 L113.5,373.9 L114.5,374.3 L115.4,374.7 L116.4,375.1 L117.3,375.5 L118.3,375.9 L119.2,376.3 L120.2,376.8 L121.1,377.2 L122.1,377.7 L123.0,378.2 L124.0,378.7 L124.9,379.2 L125.9,379.7 L126.8,380.2 L127.8,380.8 L128.7,381.4 L129.7,381.9 L130.6,382.5 L131.6,383.1 L132.5,383.7 L133.5,384.4 L134.4,385.0 L135.4,385.7 L136.3,386.4 L137.3,387.0 L138.2,387.8 L139.2,388.5 L140.2,389.2 L141.1,390.0 L142.1,390.7 L143.0,391.5 L144.0,392.3 L144.9,393.1 L145.9,394.0 L146.8,394.8 L147.8,395.7 L148.7,396.6 L149.7,397.4 L150.6,398.4 L151.6,399.3 L152.5,400.2 L153.5,401.2 L154.4,402.1 L155.4,403.1 L156.3,404.1 L157.3,405.1 L158.2,406.2 L159.2,407.2 L160.1,408.2 L161.1,409.3 L162.0,410.4 L163.0,411.5 L163.9,412.6 L164.9,413.7 L165.8,414.8 L166.8,415.9 L167.7,417.1 L168.7,418.2 L169.6,419.4 L170.6,420.5 L171.5,421.7 L172.5,422.9 L173.4,424.0 L174.4,425.2 L175.3,426.4 L176.3,427.6 L177.2,428.8 L178.2,430.0 L179.2,431.2 L180.1,432.4 L181.1,433.6 L182.0,434.8 L183.0,436.0 L183.9,437.2 L184.9,438.4 L185.8,439.6 L186.8,440.8 L187.7,442.0 L188.7,443.2 L189.6,444.4 L190.6,445.6 L191.5,446.8 L192.5,447.9 L193.4,449.1 L194.4,450.2 L195.3,451.4 L196.3,452.5 L197.2,453.6 L198.2,454.8 L199.1,455.9 L200.1,457.0 L201.0,458.0 L202.0,459.1 L202.9,460.2 L203.9,461.2 L204.8,462.3 L205.8,463.3 L206.7,464.3 L207.7,465.3 L208.6,466.3 L209.6,467.3 L210.5,468.2 L211.5,469.2 L212.4,470.1 L213.4,471.0 L214.3,471.9 L215.3,472.8 L216.2,473.7 L217.2,474.5 L218.2,475.4 L219.1,476.2 L220.1,477.0 L221.0,477.8 L222.0,478.6 L222.9,479.4 L223.9,480.1 L224.8,480.9 L225.8,481.6 L226.7,482.3 L227.7,483.0 L228.6,483.7 L229.6,484.3 L230.5,485.0 L231.5,485.6 L232.4,486.3 L233.4,486.9 L234.3,487.5 L235.3,488.1 L236.2,488.7 L237.2,489.2 L238.1,489.8 L239.1,490.3 L240.0,490.8 L241.0,491.3 L241.9,491.8 L242.9,492.3 L243.8,492.8 L244.8,493.3 L245.7,493.7 L246.7,494.2 L247.6,494.6 L248.6,495.0 L249.5,495.4 L250.5,495.8 L251.4,496.2 L252.4,496.6 L253.3,497.0 L254.3,497.3 L255.2,497.7 L256.2,498.0 L257.2,498.4 L258.1,498.7 L259.1,499.0 L260.0,499.3 L261.0,499.6 L261.9,499.9 L262.9,500.2 L263.8,500.5 L264.8,500.8 L265.7,501.0 L266.7,501.3 L267.6,501.6 L268.6,501.8 L269.5,502.0 L270.5,502.3 L271.4,502.5 L272.4,502.7 L273.3,502.9 L274.3,503.1 L275.2,503.3 L276.2,503.5 L277.1,503.7 L278.1,503.9 L279.0,504.1 L280.0,504.3 L280.9,504.4 L281.9,504.6 L282.8,504.8 L283.8,504.9 L284.7,505.1 L285.7,505.2 L286.6,505.4 L287.6,505.5 L288.5,505.6 L289.5,505.8 L290.4,505.9 L291.4,506.0 L292.3,506.2 L293.3,506.3 L294.2,506.4 L295.2,506.5 L296.2,506.6 L297.1,506.7 L298.1,506.8 L299.0,506.9 L300.0,507.0 L300.9,507.1 L301.9,507.2 L302.8,507.3 L303.8,507.4 L304.7,507.5 L305.7,507.5 L306.6,507.6 L307.6,507.7 L308.5,507.8 L309.5,507.8 L310.4,507.9 L311.4,508.0 L312.3,508.1 L313.3,508.1 L314.2,508.2 L315.2,508.2 L316.1,508.3 L317.1,508.4 L318.0,508.4 L319.0,508.5 L319.9,508.5 L320.9,508.6 L321.8,508.6 L322.8,508.7 L323.7,508.7 L324.7,508.8 L325.6,508.8 L326.6,508.9 L327.5,508.9 L328.5,508.9 L329.4,509.0 L330.4,509.0 L331.3,509.1 L332.3,509.1 L333.2,509.1 L334.2,509.2" fill="none" stroke="#e0102a" stroke-width="2.75" stroke-linejoin="round" stroke-linecap="round"/>
<path d="M106.86,368.24 V353.30 M104.56,353.30 H109.16" stroke="#1a26e0" stroke-width="1.25" fill="none"/>
<path d="M136.60,356.20 V343.40 M134.30,343.40 H138.90" stroke="#1a26e0" stroke-width="1.25" fill="none"/>
<path d="M205.66,372.31 V375.50 M203.36,375.50 H207.96" stroke="#1a26e0" stroke-width="1.25" fill="none"/>
<path d="M235.40,382.80 V369.00 M233.10,369.00 H237.70" stroke="#1a26e0" stroke-width="1.25" fill="none"/>
<circle cx="136.60" cy="356.20" r="3.20" fill="#1a26e0"/>
<circle cx="235.40" cy="382.80" r="3.20" fill="#1a26e0"/>
<path d="M235.40,420.00 V410.00 M233.10,410.00 H237.70" stroke="#22e226" stroke-width="1.25" fill="none"/>
<path d="M304.46,477.00 V473.30 M302.16,473.30 H306.76" stroke="#22e226" stroke-width="1.25" fill="none"/>
<path d="M334.20,499.70 V493.20 M331.90,493.20 H336.50" stroke="#22e226" stroke-width="1.25" fill="none"/>
<polygon points="205.66,408.60 208.86,411.80 205.66,415.00 202.46,411.80" fill="#22e226"/>
<polygon points="235.40,416.80 238.60,420.00 235.40,423.20 232.20,420.00" fill="#22e226"/>
<polygon points="304.46,473.80 307.66,477.00 304.46,480.20 301.26,477.00" fill="#22e226"/>
<polygon points="334.20,496.50 337.40,499.70 334.20,502.90 331.00,499.70" fill="#22e226"/>
<path d="M106.86,379.75 V359.70 M104.56,359.70 H109.16" stroke="#000" stroke-width="1.25" fill="none"/>
<path d="M136.60,392.30 V377.40 M134.30,377.40 H138.90" stroke="#000" stroke-width="1.25" fill="none"/>
<path d="M205.66,395.62 V382.30 M203.36,382.30 H207.96" stroke="#000" stroke-width="1.25" fill="none"/>
<path d="M235.40,419.30 V414.80 M233.10,414.80 H237.70" stroke="#000" stroke-width="1.25" fill="none"/>
<polygon points="133.50,390.07 139.70,390.07 136.60,395.37" fill="#000"/>
<polygon points="232.30,417.07 238.50,417.07 235.40,422.37" fill="#000"/>
<polygon points="301.36,494.97 307.56,494.97 304.46,500.27" fill="#000"/>
<polygon points="331.10,505.27 337.30,505.27 334.20,510.57" fill="#000"/>
<path d="M136.60,378.03 V374.30 M134.30,374.30 H138.90" stroke="#a424dc" stroke-width="1.25" fill="none"/>
<path d="M205.66,405.30 V394.70 M203.36,394.70 H207.96" stroke="#a424dc" stroke-width="1.25" fill="none"/>
<path d="M304.46,492.00 V479.00 M302.16,479.00 H306.76" stroke="#a424dc" stroke-width="1.25" fill="none"/>
<polygon points="202.56,407.53 208.76,407.53 205.66,402.23" fill="#a424dc"/>
<polygon points="232.30,445.23 238.50,445.23 235.40,439.93" fill="#a424dc"/>
<polygon points="301.36,494.23 307.56,494.23 304.46,488.93" fill="#a424dc"/>
<polygon points="331.10,509.23 337.30,509.23 334.20,503.93" fill="#a424dc"/>
<path d="M106.86,372.20 V355.40 M104.56,355.40 H109.16" stroke="#e0102a" stroke-width="1.25" fill="none"/>
<path d="M136.60,386.70 V329.60 M134.30,329.60 H138.90" stroke="#e0102a" stroke-width="1.25" fill="none"/>
<path d="M205.66,467.50 V460.50 M203.36,460.50 H207.96" stroke="#e0102a" stroke-width="1.25" fill="none"/>
<path d="M235.40,487.20 V479.00 M233.10,479.00 H237.70" stroke="#e0102a" stroke-width="1.25" fill="none"/>
<rect x="103.96" y="369.30" width="5.80" height="5.80" fill="#e0102a"/>
<rect x="133.70" y="383.80" width="5.80" height="5.80" fill="#e0102a"/>
<rect x="202.76" y="464.60" width="5.80" height="5.80" fill="#e0102a"/>
<rect x="232.50" y="484.30" width="5.80" height="5.80" fill="#e0102a"/>
<rect x="301.56" y="506.40" width="5.80" height="5.80" fill="#e0102a"/>
<rect x="331.30" y="506.90" width="5.80" height="5.80" fill="#e0102a"/>
<rect x="368.90" y="347.70" width="5.80" height="5.80" fill="#e0102a"/>
<text class="t" x="389.48" y="357.85" font-size="17.3">PC9</text>
<polygon points="368.70,374.83 374.90,374.83 371.80,369.53" fill="#a424dc"/>
<text class="t" x="389.96" y="379.55" font-size="17.3">Clone 19 + drug</text>
<polygon points="368.70,391.97 374.90,391.97 371.80,397.27" fill="#000"/>
<text class="t" x="389.96" y="401.25" font-size="17.3">Clone 19</text>
<text class="t" x="469.16" y="401.25" font-size="17.3">-</text>
<text class="t" x="481.76" y="401.25" font-size="17.3">drug</text>
<polygon points="371.80,412.40 375.00,415.60 371.80,418.80 368.60,415.60" fill="#22e226"/>
<text class="t" x="389.96" y="422.95" font-size="17.3">Clone 49 + drug</text>
<circle cx="371.80" cy="437.40" r="3.20" fill="#1a26e0"/>
<text class="t" x="389.96" y="444.65" font-size="17.3">Clone 49</text>
<text class="t" x="469.16" y="444.65" font-size="17.3">-</text>
<text class="t" x="481.76" y="444.65" font-size="17.3">drug</text>
<path d="M88.5,303.4 V510.4" stroke="#000" stroke-width="1.7" fill="none"/>
<path d="M82.50,510.40 H88.5" stroke="#000" stroke-width="1.7"/>
<path d="M82.50,475.90 H88.5" stroke="#000" stroke-width="1.7"/>
<path d="M82.50,441.40 H88.5" stroke="#000" stroke-width="1.7"/>
<path d="M82.50,406.90 H88.5" stroke="#000" stroke-width="1.7"/>
<path d="M82.50,372.40 H88.5" stroke="#000" stroke-width="1.7"/>
<path d="M82.50,337.90 H88.5" stroke="#000" stroke-width="1.7"/>
<path d="M82.50,303.40 H88.5" stroke="#000" stroke-width="1.7"/>
<path d="M82.8,510.4 H383.3" stroke="#000" stroke-width="1.7" fill="none"/>
<path d="M88.50,510.4 V514.40" stroke="#000" stroke-width="1.5"/>
<path d="M136.60,510.4 V516.60" stroke="#000" stroke-width="1.5"/>
<path d="M166.34,510.4 V514.40" stroke="#000" stroke-width="1.5"/>
<path d="M183.74,510.4 V514.40" stroke="#000" stroke-width="1.5"/>
<path d="M196.08,510.4 V514.40" stroke="#000" stroke-width="1.5"/>
<path d="M205.66,510.4 V514.40" stroke="#000" stroke-width="1.5"/>
<path d="M213.48,510.4 V514.40" stroke="#000" stroke-width="1.5"/>
<path d="M220.10,510.4 V514.40" stroke="#000" stroke-width="1.5"/>
<path d="M225.83,510.4 V514.40" stroke="#000" stroke-width="1.5"/>
<path d="M230.88,510.4 V514.40" stroke="#000" stroke-width="1.5"/>
<path d="M235.40,510.4 V516.60" stroke="#000" stroke-width="1.5"/>
<path d="M265.14,510.4 V514.40" stroke="#000" stroke-width="1.5"/>
<path d="M282.54,510.4 V514.40" stroke="#000" stroke-width="1.5"/>
<path d="M294.88,510.4 V514.40" stroke="#000" stroke-width="1.5"/>
<path d="M304.46,510.4 V514.40" stroke="#000" stroke-width="1.5"/>
<path d="M312.28,510.4 V514.40" stroke="#000" stroke-width="1.5"/>
<path d="M318.90,510.4 V514.40" stroke="#000" stroke-width="1.5"/>
<path d="M324.63,510.4 V514.40" stroke="#000" stroke-width="1.5"/>
<path d="M329.68,510.4 V514.40" stroke="#000" stroke-width="1.5"/>
<path d="M334.20,510.4 V516.60" stroke="#000" stroke-width="1.5"/>
<path d="M363.94,510.4 V514.40" stroke="#000" stroke-width="1.5"/>
<path d="M381.34,510.4 V514.40" stroke="#000" stroke-width="1.5"/>
<path d="M117.53,510.4 V514.40" stroke="#000" stroke-width="1.5"/>
<path d="M147.37,510.4 V514.40" stroke="#000" stroke-width="1.5"/>
</svg>
</body></html>
